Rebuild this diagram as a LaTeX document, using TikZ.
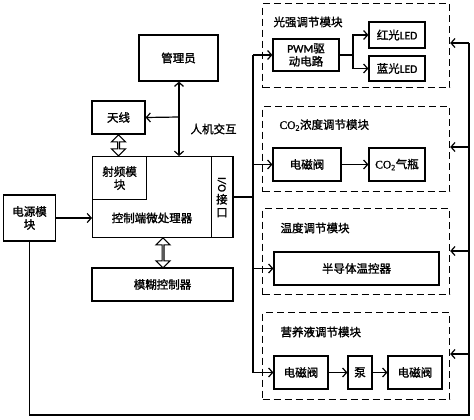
\documentclass[tikz,border=0pt]{standalone}
\usepackage{fontspec}
\setmainfont{Noto Sans CJK SC}[FakeBold=1.5]
\newfontfamily\latinsf{Carlito}[FakeBold=1.5]
\newfontfamily\latinrm{Liberation Serif}[FakeBold=1.2]
\usetikzlibrary{arrows.meta, shapes.arrows, calc}
\tikzset{
    blk/.style={draw, line width=1.2pt, align=center, inner sep=1pt, font=\fontsize{11.5}{13}\selectfont},
    grp/.style={draw, line width=1.2pt, dash pattern=on 7pt off 4pt},
    ttl/.style={anchor=west, font=\fontsize{11.5}{13}\selectfont},
    arr/.style={line width=1.2pt, -{Straight Barb[length=4pt,width=9pt]}},
    dblarr/.style={draw, line width=1.1pt, double arrow, shape border rotate=90,
        double arrow head extend=3.5pt, minimum width=14pt, inner sep=0pt},
}
\newcommand{\COtwo}{{\latinrm CO}\textsubscript{\latinrm 2}}
\begin{document}
\begin{tikzpicture}[x=1pt, y=-1pt]
    \useasboundingbox (0,0) rectangle (474,420);

    % left part
    \node[blk, minimum width=79, minimum height=46] (admin) at (178.5,58) {管理员};
    \node[blk, minimum width=53, minimum height=33] (ant) at (118.5,117.5) {天线};
    \node[blk, minimum width=141, minimum height=81, anchor=north west] (mcu) at (92,156) {};
    \node[blk, minimum width=54, minimum height=43, anchor=north west] (rf) at (92,156) {射频模\\块};
    \node[blk, minimum width=21, minimum height=81, anchor=north east] (io) at (233,156)
        {\rotatebox[origin=c]{-90}{\latinsf I/O}\\[1pt]接\\口};
    \node[font=\fontsize{11.5}{13}\selectfont] (mcutxt) at (152,218) {控制端微处理器};
    \node[blk, minimum width=141, minimum height=33] (fuzzy) at (162.5,284.5) {模糊控制器};
    \node[blk, minimum width=52, minimum height=46] (pwr) at (29.5,218) {电源模\\块};

    \coordinate (j1) at (179,117);
    \draw[arr, {Straight Barb[length=4pt,width=9pt]}-{Straight Barb[length=4pt,width=9pt]}] (admin.south -| j1) -- (mcu.north -| j1);
    \draw[arr] (j1) -- (ant.east);
    \node[anchor=west, font=\fontsize{11.5}{13}\selectfont] (hci) at (187,129) {人机交互};
    \node[dblarr, minimum height=21pt] (rflink) at ($(ant.south)!0.5!(rf.north -| ant.south)$) {};
    \node[dblarr, minimum height=30pt] (fzlink) at ($(mcu.south -| 163,0)!0.5!(fuzzy.north -| 163,0)$) {};
    \draw[arr] (pwr.east |- mcutxt) -- (mcu.west |- mcutxt);

    % right part: dashed groups
    \node[grp, minimum width=187, minimum height=84, anchor=north west] (light) at (262,3) {};
    \node[grp, minimum width=187, minimum height=85, anchor=north west] (co2) at (262,106) {};
    \node[grp, minimum width=187, minimum height=86, anchor=north west] (temp) at (262,208) {};
    \node[grp, minimum width=187, minimum height=87, anchor=north west] (nutr) at (262,312) {};

    \node[ttl] at (270,22) {光强调节模块};
    \node[ttl] at (276,125) {\COtwo 浓度调节模块};
    \node[ttl] at (277,228) {温度调节模块};
    \node[ttl] at (277,332) {营养液调节模块};

    \node[blk, minimum width=66, minimum height=32] (pwm) at (306,55) {{\latinsf PWM}驱\\动电路};
    \node[blk, minimum width=56, minimum height=26] (red) at (397,35) {红光{\latinsf LED}};
    \node[blk, minimum width=56, minimum height=25] (blue) at (397,68.5) {蓝光{\latinsf LED}};
    \coordinate (split) at (353,55);
    \draw[line width=1.2pt] (pwm.east) -- (split);
    \draw[arr] (split) |- (red.west);
    \draw[arr] (split) |- (blue.west);

    \node[blk, minimum width=68, minimum height=33] (valve1) at (307,164.5) {电磁阀};
    \node[blk, minimum width=56, minimum height=33] (tank) at (397,164.5) {\COtwo 气瓶};
    \draw[arr] (valve1) -- (tank);

    \node[blk, minimum width=165, minimum height=33] (peltier) at (356.5,268.5) {半导体温控器};

    \node[blk, minimum width=54, minimum height=33] (valve2) at (301,372.5) {电磁阀};
    \node[blk, minimum width=24, minimum height=33] (pump) at (360,372.5) {泵};
    \node[blk, minimum width=54, minimum height=33] (valve3) at (415,372.5) {电磁阀};
    \draw[arr] (valve2) -- (pump);
    \draw[arr] (pump) -- (valve3);

    % control bus
    \coordinate (bus) at (253,197);
    \draw[line width=1.2pt] (io.east |- bus) -- (bus);
    \draw[line width=1.2pt] (bus |- pwm) -- (bus |- valve2);
    \draw[arr] (bus |- pwm) -- (pwm.west);
    \draw[arr] (bus |- valve1) -- (valve1.west);
    \draw[arr] (bus |- peltier) -- (peltier.west);
    \draw[arr] (bus |- valve2) -- (valve2.west);

    % power line
    \coordinate (pr) at (469,415);
    \draw[line width=1.2pt] (pwr.south) |- (pr) -- (pr |- 0,43);
    \draw[arr] (pr |- 0,43) -- (light.east |- 0,43);
    \draw[arr] (pr |- 0,147) -- (co2.east |- 0,147);
    \draw[arr] (pr |- 0,251) -- (temp.east |- 0,251);
    \draw[arr] (pr |- 0,354) -- (nutr.east |- 0,354);
\end{tikzpicture}
\end{document}
